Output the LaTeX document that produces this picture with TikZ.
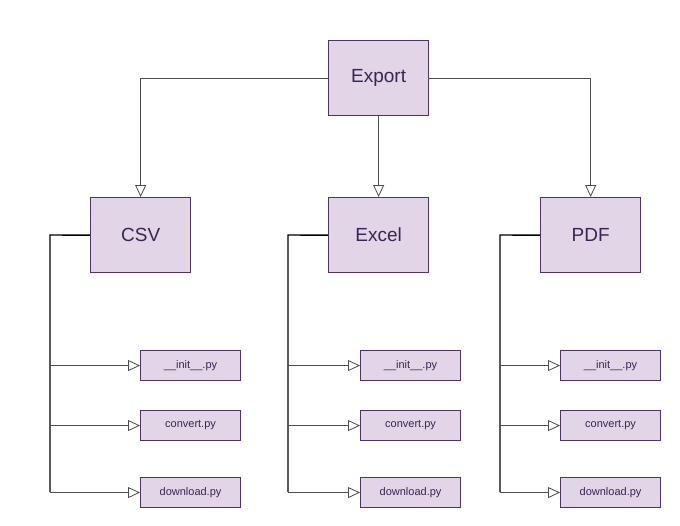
\documentclass[tikz,border=0pt]{standalone}
\usepackage{fontspec}
\setmainfont{Liberation Sans}
\usetikzlibrary{arrows.meta}
\definecolor{bfill}{HTML}{E1D5E7}
\definecolor{bdraw}{HTML}{4E3464}
\definecolor{btext}{HTML}{3A2550}
\begin{document}
\begin{tikzpicture}[x=1pt,y=-1pt,
 big/.style={draw=bdraw,line width=1.3pt,fill=bfill,minimum width=100pt,minimum height=75pt,inner sep=0pt,text=btext,font=\fontsize{19}{22}\selectfont,anchor=north west},
 file/.style={draw=bdraw,line width=1.1pt,fill=bfill,minimum width=100pt,minimum height=30pt,inner sep=0pt,text=btext,font=\fontsize{11}{13}\selectfont,anchor=north west},
 conn/.style={draw=black!70,line width=0.8pt,-{Triangle[open,length=12pt,width=11pt]}},
 spine/.style={draw=black,line width=1.4pt}]
\useasboundingbox (0,0) rectangle (680,525);
\node[big] (exp) at (328,40) {Export};
\node[big] (csv) at (90,197) {CSV};
\node[big] (xls) at (328,197) {Excel};
\node[big] (pdf) at (540,197) {PDF};
\draw[conn] (exp.west) -| (csv.north);
\draw[conn] (exp.south) -- (xls.north);
\draw[conn] (exp.east) -| (pdf.north);
\foreach \b/\x/\sx in {csv/140/50, xls/360/288, pdf/560/500}{
  \node[file] (\b i) at (\x,350) {\_\_init\_\_.py};
  \node[file] (\b c) at (\x,410) {convert.py};
  \node[file] (\b d) at (\x,477) {download.py};
  \coordinate (\b s) at (\sx,235);
  \coordinate (\b e) at (\sx,492);
  \draw[spine] (\b.west) -- (\b s) -- (\b e);
  \draw[conn] (\b s |- \b i.west) -- (\b i.west);
  \draw[conn] (\b s |- \b c.west) -- (\b c.west);
  \draw[conn] (\b s |- \b d.west) -- (\b d.west);
}
\end{tikzpicture}
\end{document}
